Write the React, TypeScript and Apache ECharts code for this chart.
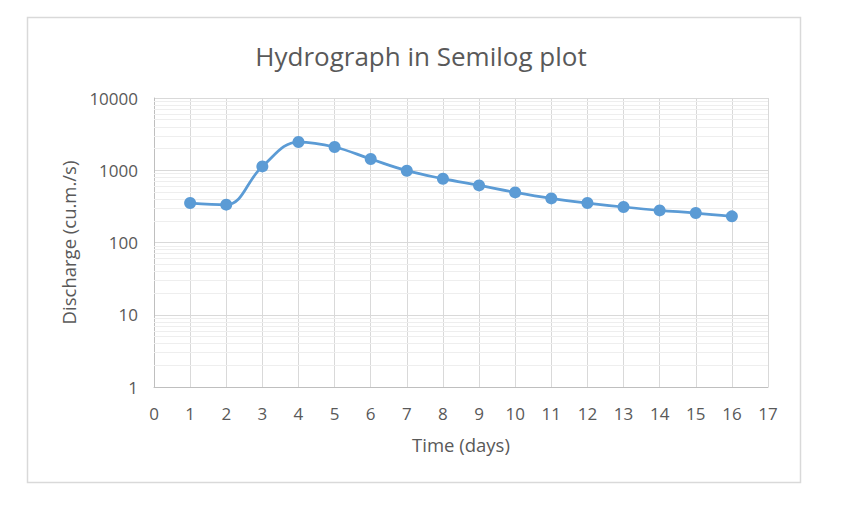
import React, { useEffect, useRef } from "react";
import * as echarts from "echarts";

const days = [1, 2, 3, 4, 5, 6, 7, 8, 9, 10, 11, 12, 13, 14, 15, 16];
const discharge = [352, 334, 1130, 2460, 2100, 1430, 986, 764, 617, 494, 408, 352, 310, 278, 256, 230];
const decades = [1, 10, 100, 1000];
const minorMultipliers = [2, 3, 4, 5, 6, 7, 8, 9];

const minorLines: number[] = [];
decades.forEach((d) => minorMultipliers.forEach((m) => minorLines.push(d * m)));

const FONT = "Open Sans";

export default function App() {
  const ref = useRef<HTMLDivElement>(null);
  useEffect(() => {
    if (!ref.current) return;
    const chart = echarts.init(ref.current, null, { renderer: "svg" });
    chart.setOption({
      animation: false,
      backgroundColor: "#ffffff",
      title: {
        text: "Hydrograph in Semilog plot",
        left: 416,
        top: 38,
        textAlign: "center",
        textStyle: { fontFamily: FONT, fontSize: 26, fontWeight: "normal", color: "#595959" },
      },
      graphic: [
        {
          type: "rect",
          shape: { x: 27.5, y: 17.5, width: 773, height: 465 },
          style: { fill: "none", stroke: "#d9d9d9", lineWidth: 1.5 },
          silent: true,
        },
      ],
      grid: { left: 154, right: 74, top: 98, bottom: 119 },
      xAxis: {
        type: "value",
        min: 0,
        max: 17,
        interval: 1,
        name: "Time (days)",
        nameLocation: "middle",
        nameGap: 48,
        nameTextStyle: { fontFamily: FONT, fontSize: 18.5, color: "#595959" },
        axisLine: { show: true, lineStyle: { color: "#bfbfbf", width: 1 } },
        axisTick: { show: false },
        axisLabel: { fontFamily: FONT, fontSize: 17, color: "#595959", margin: 18 },
        splitLine: { show: true, lineStyle: { color: "#d9d9d9", width: 1 } },
      },
      yAxis: {
        type: "log",
        logBase: 10,
        min: 1,
        max: 10000,
        name: "Discharge (cu.m./s)",
        nameLocation: "middle",
        nameGap: 73,
        nameTextStyle: { fontFamily: FONT, fontSize: 18.5, color: "#595959" },
        axisLine: { show: true, lineStyle: { color: "#bfbfbf", width: 1 } },
        axisTick: { show: false },
        axisLabel: {
          fontFamily: FONT,
          fontSize: 17,
          color: "#595959",
          margin: 16,
          formatter: (v: number) => String(Math.round(v)),
        },
        splitLine: { show: true, lineStyle: { color: "#d9d9d9", width: 1 } },
      },
      series: [
        {
          type: "line",
          data: [],
          silent: true,
          z: 1,
          markLine: {
            silent: true,
            z: 1,
            symbol: ["none", "none"],
            label: { show: false },
            lineStyle: { color: "#eeeeee", type: "solid", width: 1 },
            data: minorLines.map((v) => ({ yAxis: v })),
          },
        },
        {
          type: "line",
          z: 10,
          data: days.map((d, i) => [d, discharge[i]]),
          smooth: 0.4,
          symbol: "circle",
          symbolSize: 12,
          itemStyle: { color: "#5b9bd5" },
          lineStyle: { color: "#5b9bd5", width: 2.75 },
        },
      ],
    });
    return () => chart.dispose();
  }, []);
  return (
    <div
      ref={ref}
      style={{ position: "absolute", left: 0, top: 0, width: 842, height: 506 }}
    />
  );
}
